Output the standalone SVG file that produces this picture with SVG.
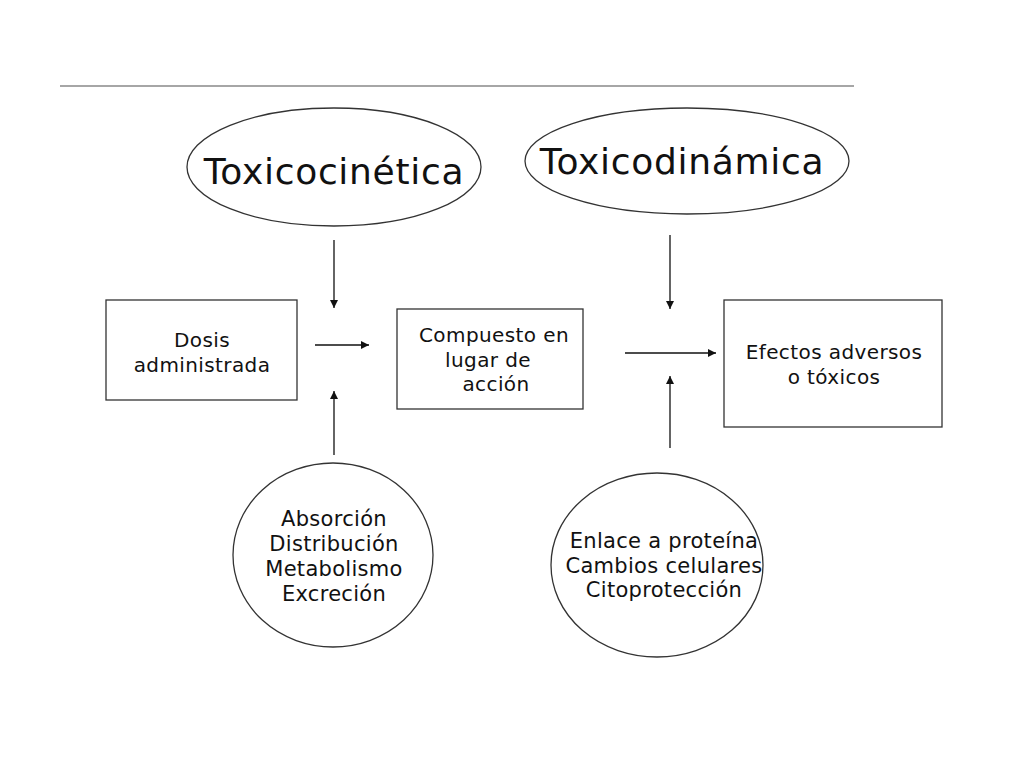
<svg xmlns="http://www.w3.org/2000/svg" width="1024" height="768" viewBox="0 0 1024 768">
<defs>
<marker id="ah" viewBox="0 0 10 10" refX="10" refY="5" markerWidth="8" markerHeight="8" markerUnits="userSpaceOnUse" orient="auto">
<path d="M0,0 L10,5 L0,10 z" fill="#111"/>
</marker>
</defs>
<style>
.shape{fill:#fff;stroke:#333;stroke-width:1.3}
.t{font-family:"DejaVu Sans",Verdana,sans-serif;fill:#111;text-anchor:middle}
.big{font-size:36px;letter-spacing:0.7px}
.mid{font-size:20px;letter-spacing:0.4px}
.cir{font-size:21px;letter-spacing:0.3px}
.conn{stroke:#111;stroke-width:1.3;fill:none;marker-end:url(#ah)}
</style>
<rect width="1024" height="768" fill="#fff"/>
<line x1="60" y1="86" x2="854" y2="86" stroke="#888" stroke-width="1.5"/>
<g id="toxicocinetica">
<ellipse class="shape" cx="334" cy="167" rx="147" ry="59"/>
<text class="t big" x="334" y="184">Toxicocinética</text>
</g>
<g id="toxicodinamica">
<ellipse class="shape" cx="687" cy="161" rx="162" ry="53"/>
<text class="t big" x="682" y="174">Toxicodinámica</text>
</g>
<g id="dosis">
<rect class="shape" x="106" y="300" width="191" height="100"/>
<text class="t mid" x="202" y="347">Dosis</text>
<text class="t mid" x="202" y="372">administrada</text>
</g>
<g id="compuesto">
<rect class="shape" x="397" y="309" width="186" height="100"/>
<text class="t mid" x="494" y="342">Compuesto en</text>
<text class="t mid" x="488" y="367">lugar de</text>
<text class="t mid" x="496" y="391">acción</text>
</g>
<g id="efectos">
<rect class="shape" x="724" y="300" width="218" height="127"/>
<text class="t mid" x="834" y="359">Efectos adversos</text>
<text class="t mid" x="834" y="384">o tóxicos</text>
</g>
<g id="procesos">
<ellipse class="shape" cx="333" cy="555" rx="100" ry="92"/>
<text class="t cir" x="334" y="526">Absorción</text>
<text class="t cir" x="334" y="551">Distribución</text>
<text class="t cir" x="334" y="576">Metabolismo</text>
<text class="t cir" x="334" y="601">Excreción</text>
</g>
<g id="mecanismos">
<ellipse class="shape" cx="657" cy="565" rx="106" ry="92"/>
<text class="t cir" x="664" y="548">Enlace a proteína</text>
<text class="t cir" x="664" y="573">Cambios celulares</text>
<text class="t cir" x="664" y="597">Citoprotección</text>
</g>
<g id="connectors">
<line class="conn" x1="315" y1="345" x2="369" y2="345"/>
<line class="conn" x1="334" y1="240" x2="334" y2="308"/>
<line class="conn" x1="334" y1="455" x2="334" y2="391"/>
<line class="conn" x1="625" y1="353" x2="716" y2="353"/>
<line class="conn" x1="670" y1="235" x2="670" y2="309"/>
<line class="conn" x1="670" y1="448" x2="670" y2="376"/>
</g>
</svg>
